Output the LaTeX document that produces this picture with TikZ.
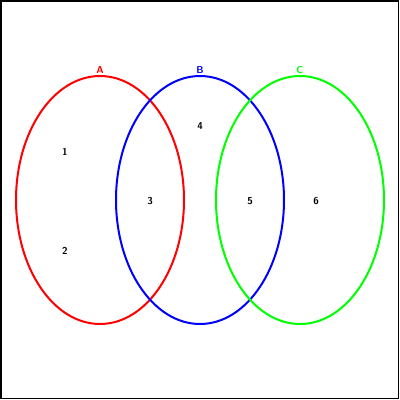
\documentclass[tikz,border=0pt]{standalone}
\usepackage{tikz}
\usetikzlibrary{positioning}
\definecolor{setred}{RGB}{255,0,0}
\definecolor{setblue}{RGB}{0,0,255}
\definecolor{setgreen}{RGB}{0,255,0}

\begin{document}
\begin{tikzpicture}[x=1pt,y=-1pt,
    setline/.style={line width=2pt},
    setname/.style={font={\sffamily\bfseries\normalsize},inner sep=0pt},
    region/.style={font={\sffamily\bfseries\normalsize},inner sep=0pt},
    ]
	\useasboundingbox (0,0) rectangle (400,400);
	\draw[black,line width=1.5pt] (0.75,398.5) -- (0.75,0.75) -- (398.5,0.75) -- (398.5,398.5) -- cycle;
	% the three sets
	\draw[setline,setred] (100,200) ellipse [x radius=84,y radius=124];
	\draw[setline,setblue] (200,200) ellipse [x radius=84,y radius=124];
	\draw[setline,setgreen] (300,200) ellipse [x radius=84,y radius=124];
	\node[setname,text=setred] (nameA) at (100,70) {A};
	\node[setname,text=setblue] (nameB) at (200,70) {B};
	\node[setname,text=setgreen] (nameC) at (300,70) {C};
	% regions
	\node[region] (r1) at (65,152) {1};
	\node[region] (r2) at (65,251) {2};
	\node[region] (r3) at (150,201) {3};
	\node[region] (r4) at (200,126) {4};
	\node[region] (r5) at (250,201) {5};
	\node[region] (r6) at (316,201) {6};
\end{tikzpicture}
\end{document}
